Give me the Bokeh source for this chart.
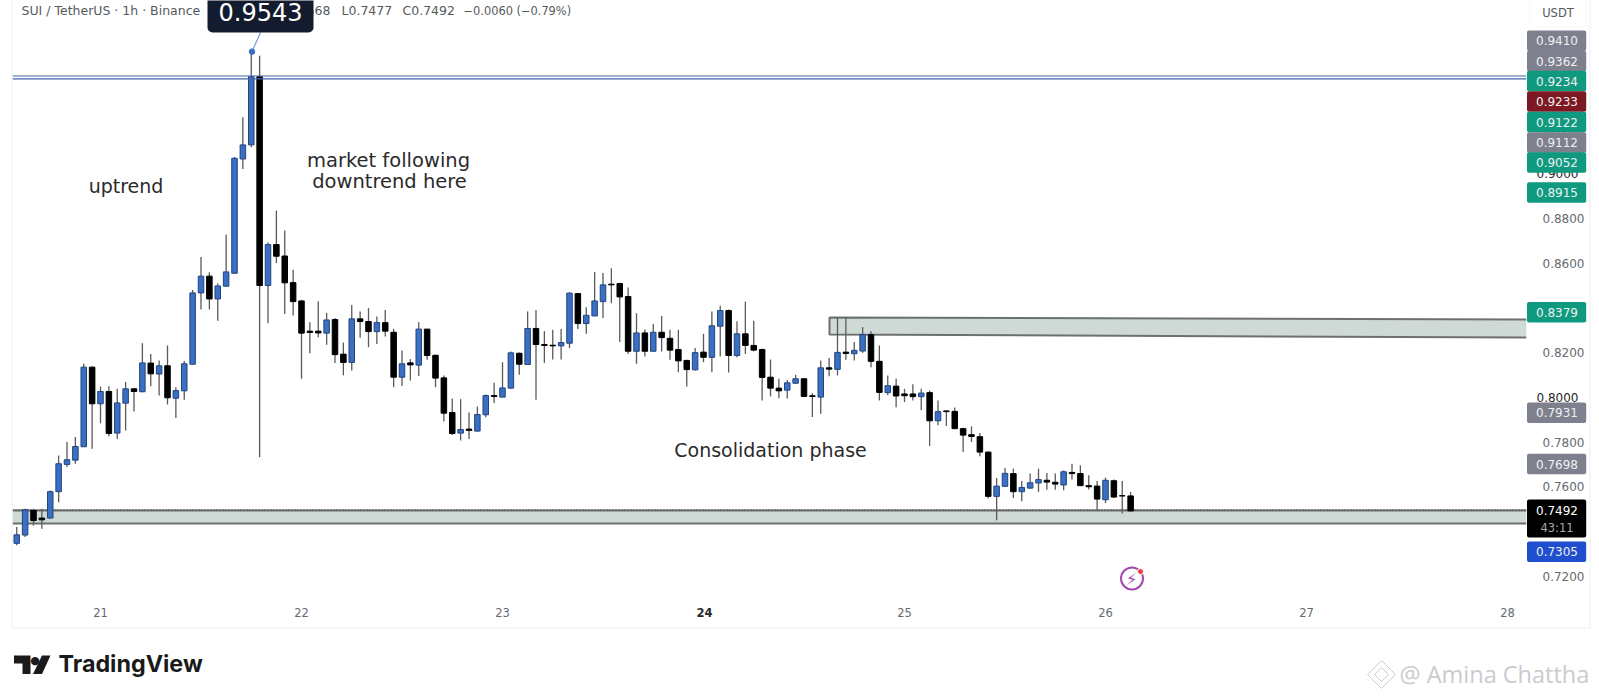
from bokeh.plotting import figure
from bokeh.models import (ColumnDataSource, FixedTicker, Label, BoxAnnotation, PolyAnnotation, Span)
from bokeh.embed import file_html
from bokeh.resources import INLINE

# ---------- data ----------
first_hour = -10  # hours relative to day 21 00:00
opens = [.7347,.7384,.7494,.7460,.7460,.7578,.7700,.7719,.7779,.8135,
 .7971,.8026,.7840,.7974,.8038,.8025,.8153,.8104,.8141,.7996,.8029,.8148,.8467,.8542,.8440,.8497,.8555,.9066,.9129,.9434,
 .8500,.8683,.8632,.8513,.8431,.8296,.8296,.8287,.8348,.8193,.8156,.8351,.8339,.8294,.8334,.8291,.8090,.8154,.8144,.8305,
 .8188,.8087,.7932,.7840,.7858,.7849,.7922,.8008,.8001,.8041,.8197,.8147,.8308,.8236,.8233,.8230,.8242,.8464,.8330,.8364,
 .8428,.8506,.8509,.8451,.8206,.8288,.8206,.8291,.8264,.8214,.8165,.8123,.8202,.8179,.8318,.8388,.8187,.8284,.8232,.8214,
 .8090,.8041,.8032,.8063,.8083,.8007,.8001,.8132,.8125,.8202,.8195,.8207,.8280,.8161,.8021,.8050,.8015,.8015,.8003,.8021,
 .7895,.7939,.7937,.7860,.7833,.7824,.7755,.7557,.7602,.7659,.7578,.7594,.7617,.7629,.7620,.7608,.7664,.7659,.7605,.7603,
 .7542,.7627,.7560,.7559]
highs = [.7420,.7502,.7502,.7502,.7583,.7740,.7800,.7822,.8150,.8138,
 .8048,.8050,.8038,.8068,.8041,.8242,.8194,.8165,.8232,.8045,.8162,.8480,.8627,.8559,.8510,.8728,.9075,.9252,.9546,.9528,
 .8694,.8835,.8746,.8570,.8436,.8336,.8430,.8378,.8355,.8245,.8413,.8384,.8399,.8361,.8391,.8306,.8209,.8171,.8336,.8306,
 .8191,.8098,.7995,.7992,.7932,.7959,.8013,.8065,.8157,.8205,.8200,.8384,.8391,.8296,.8302,.8305,.8470,.8467,.8403,.8561,
 .8556,.8577,.8512,.8491,.8376,.8303,.8328,.8364,.8302,.8302,.8168,.8221,.8284,.8384,.8410,.8393,.8340,.8428,.8343,.8217,
 .8169,.8083,.8078,.8101,.8086,.8019,.8165,.8176,.8359,.8359,.8247,.8314,.8296,.8232,.8098,.8083,.8038,.8058,.8038,.8031,
 .7986,.7942,.7954,.7864,.7870,.7840,.7758,.7639,.7684,.7681,.7626,.7659,.7681,.7662,.7659,.7673,.7703,.7696,.7651,.7626,
 .7641,.7632,.7626,.7577]
lows = [.7338,.7375,.7427,.7412,.7457,.7531,.7688,.7703,.7779,.7770,
 .7884,.7826,.7814,.7852,.7937,.8023,.8050,.8008,.7968,.7908,.7989,.8147,.8393,.8393,.8343,.8497,.8553,.9021,.9118,.7732,
 .8331,.8600,.8373,.8366,.8083,.8197,.8269,.8235,.8153,.8098,.8120,.8266,.8224,.8239,.8272,.8045,.8051,.8075,.8095,.8168,
 .8045,.7892,.7832,.7807,.7814,.7847,.7911,.7975,.8000,.8039,.8101,.8146,.7989,.8154,.8169,.8169,.8220,.8306,.8284,.8363,
 .8355,.8421,.8247,.8194,.8150,.8182,.8205,.8205,.8168,.8112,.8048,.8120,.8157,.8112,.8182,.8111,.8179,.8194,.8206,.7986,
 .8004,.7996,.7995,.8060,.8001,.7912,.7927,.8094,.8098,.8168,.8165,.8199,.8135,.7986,.8009,.7956,.7979,.7986,.7942,.7782,
 .7875,.7872,.7857,.7755,.7800,.7737,.7547,.7450,.7599,.7550,.7535,.7591,.7577,.7587,.7587,.7584,.7633,.7603,.7588,.7495,
 .7527,.7551,.7480,.7492]
closes = [.7385,.7497,.7449,.7452,.7578,.7703,.7721,.7780,.8135,.7971,
 .8026,.7838,.7975,.8038,.8026,.8154,.8105,.8141,.7998,.8030,.8150,.8467,.8542,.8440,.8498,.8561,.9069,.9129,.9434,.8500,
 .8683,.8631,.8512,.8428,.8287,.8290,.8288,.8346,.8191,.8156,.8351,.8339,.8294,.8334,.8296,.8090,.8150,.8145,.8305,.8187,
 .8086,.7929,.7838,.7856,.7852,.7923,.8008,.8004,.8042,.8199,.8148,.8308,.8236,.8232,.8230,.8245,.8466,.8330,.8367,.8431,
 .8503,.8503,.8449,.8206,.8288,.8206,.8291,.8267,.8211,.8163,.8124,.8200,.8179,.8320,.8388,.8187,.8284,.8232,.8211,.8089,
 .8041,.8029,.8065,.8083,.8004,.8004,.8132,.8126,.8201,.8196,.8210,.8280,.8161,.8022,.8052,.8006,.8007,.8003,.8019,.7895,
 .7936,.7936,.7860,.7831,.7825,.7755,.7557,.7603,.7660,.7578,.7597,.7618,.7632,.7621,.7612,.7667,.7659,.7605,.7600,.7545,
 .7629,.7554,.7559,.7492]

day_labels = ["21", "22", "23", "24", "25", "26", "27", "28"]
price_ticks = [.72, .74, .76, .78, .80, .82, .84, .86, .88, .90, .92, .94]
resistance_top, resistance_bottom = (.8357, .8348), (.8281, .8267)
support_top, support_bottom = .7494, .7436
swing_line_upper, swing_line_lower = .9437, .9424
peak_price = .9546
peak_text = "0.9543"

GREY, GREEN, RED, BLUE, BLACK = "#7e808e", "#0f9a7f", "#7d1722", "#1f4fce", "#000000"
tags = [("0.9410", GREY), ("0.9362", GREY), ("0.9234", GREEN), ("0.9233", RED), ("0.9122", GREEN),
        ("0.9112", GREY), ("0.9052", GREEN), ("0.8915", GREEN), ("0.8379", GREEN), ("0.7931", GREY),
        ("0.7698", GREY), ("0.7305", BLUE)]
tag_centres = [40.3, 60.5, 80.5, 101, 121.5, 142, 162, 192, 311.7, 412.3, 463.5, 551.3]

# ---------- layout helpers: page pixel -> data ----------
W, H = 1599, 700
LEFT, RIGHT, BOTTOM = 12, 1526, 598
def X(px): return (px - 100) / 8.375
def Y(py): return .72 + (575.7 - py) / 2236

p = figure(width=W, height=H, output_backend="svg", toolbar_location=None,
           x_range=(X(LEFT), X(RIGHT)), y_range=(Y(BOTTOM), Y(0)), y_axis_location="right",
           min_border_left=LEFT, min_border_right=W - RIGHT, min_border_top=0, min_border_bottom=H - BOTTOM,
           background_fill_color="white", border_fill_color="white")
p.grid.visible = False
p.outline_line_color = None

TICK = "#666a70"
ax = p.yaxis[0]
ax.ticker = FixedTicker(ticks=price_ticks)
ax.major_label_overrides = {t: ("" if t in (.80, .90) else f"{t:.4f}") for t in price_ticks}
ax.axis_line_color = None
ax.major_tick_line_color = None
ax.minor_tick_line_color = None
ax.major_label_standoff = 10
ax.major_label_text_font = "DejaVu Sans"
ax.major_label_text_font_size = "12px"
ax.major_label_text_color = TICK

xa = p.xaxis[0]
xa.ticker = FixedTicker(ticks=[24 * i for i in range(len(day_labels))])
xa.major_label_overrides = {24 * i: ("" if d == "24" else d) for i, d in enumerate(day_labels)}
xa.axis_line_color = None
xa.major_tick_line_color = None
xa.minor_tick_line_color = None
xa.major_label_standoff = 3
xa.major_label_text_font = "DejaVu Sans"
xa.major_label_text_font_size = "11.5px"
xa.major_label_text_color = TICK

# ---------- zones ----------
hr = X(RIGHT)
hl = X(829)
ZONE, EDGE = "#cfdad6", "#6c716f"
p.patch([hl, hr, hr, hl], [resistance_top[0], resistance_top[1], resistance_bottom[1], resistance_bottom[0]],
        fill_color=ZONE, line_color=None)
p.line([hr, hl, hl, hr], [resistance_top[1], resistance_top[0], resistance_bottom[0], resistance_bottom[1]],
       line_color=EDGE, line_width=2)
p.patch([X(LEFT), hr, hr, X(LEFT)], [support_top, support_top, support_bottom, support_bottom],
        fill_color=ZONE, line_color=None)
p.line([X(LEFT), hr], [support_top, support_top], line_color=EDGE, line_width=2)
p.line([X(LEFT), hr], [support_bottom, support_bottom], line_color=EDGE, line_width=2)
p.line([X(LEFT), hr], [support_top + .0003, support_top + .0003], line_color="#222222", line_width=1, line_dash="1 2")

for lvl in (swing_line_upper, swing_line_lower):
    p.add_layout(Span(location=lvl, dimension="width", line_color="#3f62a8", line_width=1.2))

# ---------- candles ----------
hours = [first_hour + i for i in range(len(opens))]
p.segment(hours, lows, hours, highs, line_color="#5a5a5a", line_width=1.3)
up = [c >= o for o, c in zip(opens, closes)]
def body(flag):
    idx = [i for i, u in enumerate(up) if u == flag]
    return ColumnDataSource(dict(x=[hours[i] for i in idx], top=[max(opens[i], closes[i]) for i in idx],
                                 bottom=[min(opens[i], closes[i]) for i in idx]))
p.vbar(x="x", top="top", bottom="bottom", width=.66, source=body(True), fill_color="#3a6fc4", line_color="#23457f", line_width=1)
p.vbar(x="x", top="top", bottom="bottom", width=.66, source=body(False), fill_color="#000000", line_color="#000000", line_width=1)

# ---------- peak marker ----------
peak_h = X(251.5)
p.segment([peak_h], [peak_price], [X(260)], [Y(32)], line_color="#6d9ad8", line_width=1.2)
p.scatter([peak_h], [peak_price], size=5.5, marker="circle", fill_color="#3a6fc4", line_color="#3a6fc4")

# bolt icon
bh, bv = X(1131.5), Y(578)
p.scatter([bh], [bv], size=22, marker="circle", fill_color="white", line_color="#a247b2", line_width=2)
p.scatter([X(1140)], [Y(571)], size=6, marker="circle", fill_color="#e8404a", line_color="white", line_width=1)

# ---------- transparent overlay in page pixels, for everything around the frame ----------
o = figure(width=W, height=H, output_backend="svg", toolbar_location=None, margin=(-H, 0, 0, 0),
           x_range=(0, W), y_range=(H, 0), x_axis_location=None, y_axis_location=None,
           min_border=0, background_fill_alpha=0, border_fill_alpha=0)
o.grid.visible = False
o.outline_line_color = None

def txt(px, py, s, size, color, align="center", style="normal", font="DejaVu Sans"):
    o.add_layout(Label(x=px, y=py, text=s, text_font=font, text_font_size=f"{size}px", text_color=color,
                       text_align=align, text_baseline="middle", text_font_style=style))

def box(x0, y0, x1, y1, fill, line=None, radius=2):
    o.add_layout(BoxAnnotation(left=x0, right=x1, top=y0, bottom=y1, fill_color=fill, fill_alpha=1,
                               line_color=line, border_radius=radius, line_width=1))

def poly(points, fill, line=None):
    o.add_layout(PolyAnnotation(xs=[a for a, _ in points], ys=[b for _, b in points], fill_color=fill,
                                fill_alpha=1, line_color=line, line_alpha=1 if line else 0, line_width=1))

# header
HEAD = "#555a60"
txt(21, 10, "SUI / TetherUS · 1h · Binance", 12.5, HEAD, "left")
txt(334, 10, "O0.7552  H0.7568", 12.5, HEAD, "right")
box(207, -8, 313, 32, "#131c2e", None, 5)
txt(260, 11, peak_text, 24, "#ffffff")
txt(341, 10, "L0.7477", 12.5, HEAD, "left")
txt(402, 10, "C0.7492", 12.5, HEAD, "left")
txt(463, 10, "−0.0060 (−0.79%)", 11.4, HEAD, "left")

# chart notes
INK = "#2b2b2b"
txt(125.5, 185, "uptrend", 19, INK)
txt(388, 160, "market following", 19.5, INK)
txt(389, 181, "downtrend here", 19.5, INK)
txt(770, 449, "Consolidation phase", 19, INK)
txt(1131, 578.5, "⚡", 16, "#a247b2")

# frame lines
LIGHT = "#eef0f2"
box(LEFT - 1, 0, LEFT, 627, LIGHT, None, 0)
box(LEFT, 627, 1590, 628, LIGHT, None, 0)
box(1589, 0, 1590, 628, LIGHT, None, 0)

# emphasised ticks
txt(1536, 396.7, "0.8000", 12, "#2a2a2a", "left")
txt(1536, 173, "0.9000", 12, "#2a2a2a", "left")
txt(704, 612, "24", 11.5, "#2a2a2a", "center", "bold")

# price tags
box(1529, -2, 1586, 26, "#ffffff", "#eeeeee", 3)
txt(1557.5, 12, "USDT", 11.5, "#55585e")
for (t, c), cy in zip(tags, tag_centres):
    box(1526.5, cy - 10.2, 1585.7, cy + 10.2, c, None, 2)
    txt(1556.5, cy, t, 12, "#eef0f2")
box(1526.5, 499, 1585.7, 537, BLACK, None, 2)
txt(1556.5, 510, "0.7492", 12, "#ffffff")
txt(1556.5, 527.5, "43:11", 11.5, "#a8a8a8")

# footer
LOGO = "#1a1a1a"
poly([(13.5, 655), (30, 655), (30, 673.5), (22, 673.5), (22, 663), (13.5, 663)], LOGO)
txt(34.5, 659.5, "●", 11, LOGO)
poly([(41.5, 655), (50, 655), (41.5, 673.5), (32.5, 673.5)], LOGO)
txt(58, 663, "TradingView", 23.3, LOGO, "left", "bold", "Inter")

MARK = "#c9cbcf"
poly([(1381, 660), (1395, 674), (1381, 688), (1367, 674)], "#ffffff", MARK)
poly([(1381, 667), (1388, 674), (1381, 681), (1374, 674)], "#ffffff", MARK)
txt(1399, 673, "@ Amina Chattha", 23.5, MARK, "left", "normal", "Open Sans")

open("out.html", "w").write(file_html((p, o), INLINE))
